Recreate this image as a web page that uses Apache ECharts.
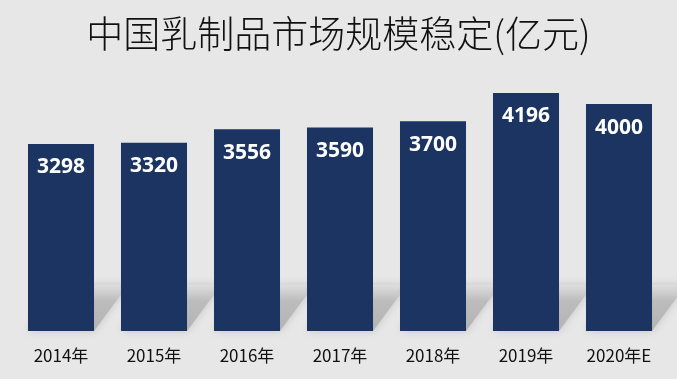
<!DOCTYPE html>
<html>
<head>
<meta charset="utf-8">
<script src="https://cdn.jsdelivr.net/npm/echarts@6/dist/echarts.min.js"></script>
<style>
  html, body { margin: 0; padding: 0; background: #e7e7e7; }
  #chart { width: 677px; height: 379px; }
</style>
</head>
<body>
<div id="chart"></div>
<script>
const years = ["2014年", "2015年", "2016年", "2017年", "2018年", "2019年", "2020年E"];
const marketSize = [3298, 3320, 3556, 3590, 3700, 4196, 4000];

const chart = echarts.init(document.getElementById("chart"));

/* soft slanted shadow behind each bar */
const renderShadow = (params, api) => {
  const base = api.coord([api.value(0), 0]);
  const band = api.size([1, 0])[0];
  const w = band * 0.71;
  const left = base[0] - w / 2;
  const right = base[0] + w / 2;
  const h = 46, skew = 34;
  return {
    type: "polygon",
    shape: {
      points: [
        [left, base[1]],
        [right, base[1]],
        [right + skew, base[1] - h],
        [left + skew, base[1] - h]
      ]
    },
    style: {
      fill: new echarts.graphic.LinearGradient(0, 1, 0, 0, [
        { offset: 0, color: "#b4b4b4" },
        { offset: 0.65, color: "#bcbcbc" },
        { offset: 1, color: "#dedede" }
      ]),
      shadowBlur: 8,
      shadowColor: "#c4c4c4"
    }
  };
};

chart.setOption({
  backgroundColor: "#e7e7e7",
  animation: false,
  title: {
    text: "中国乳制品市场规模稳定(亿元)",
    left: "center",
    top: 10,
    textStyle: {
      fontFamily: "Noto Sans CJK SC",
      fontWeight: 300,
      fontSize: 37,
      color: "#111"
    }
  },
  grid: { left: 14.5, right: 11.5, top: 47.4, bottom: 48 },
  xAxis: {
    type: "category",
    data: years,
    axisLine: { show: false },
    axisTick: { show: false },
    axisLabel: {
      margin: 16,
      fontSize: 17,
      color: "#111",
      fontFamily: "Noto Sans CJK SC"
    }
  },
  yAxis: {
    type: "value",
    min: 0,
    max: 5000,
    show: false
  },
  series: [
    {
      type: "custom",
      renderItem: renderShadow,
      data: marketSize.map((v, i) => [i, v]),
      z: 1,
      silent: true
    },
    {
      type: "bar",
      data: marketSize,
      barWidth: "71%",
      z: 2,
      itemStyle: { color: "#1b3461" },
      label: {
        show: true,
        position: "insideTop",
        distance: 13,
        color: "#fff",
        fontSize: 21,
        fontWeight: "bold",
        fontFamily: "Open Sans"
      }
    }
  ]
});
</script>
</body>
</html>
